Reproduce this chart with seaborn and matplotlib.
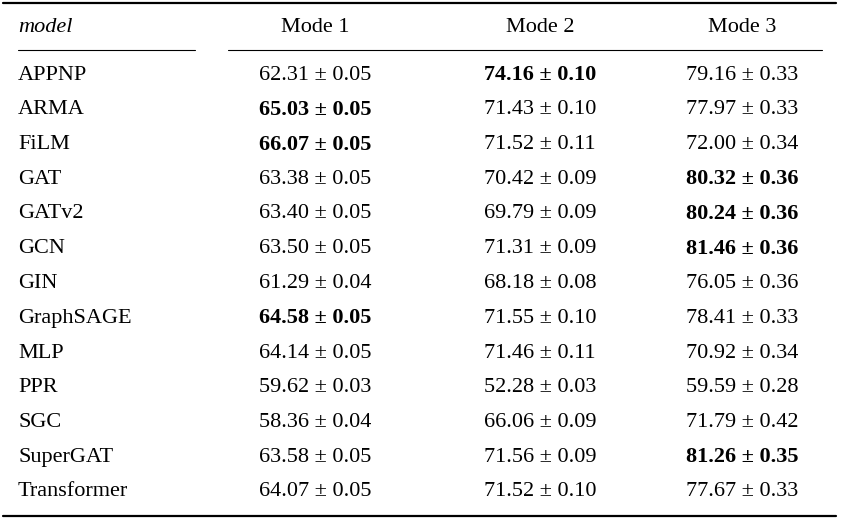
import matplotlib
matplotlib.use("Agg")
import matplotlib.pyplot as plt
import seaborn as sns

# table data
models = ["APPNP", "ARMA", "FiLM", "GAT", "GATv2", "GCN", "GIN", "GraphSAGE",
          "MLP", "PPR", "SGC", "SuperGAT", "Transformer"]
modes = ["Mode 1", "Mode 2", "Mode 3"]

mode1_mean = [62.31, 65.03, 66.07, 63.38, 63.40, 63.50, 61.29, 64.58, 64.14, 59.62, 58.36, 63.58, 64.07]
mode1_std = [0.05, 0.05, 0.05, 0.05, 0.05, 0.05, 0.04, 0.05, 0.05, 0.03, 0.04, 0.05, 0.05]
mode2_mean = [74.16, 71.43, 71.52, 70.42, 69.79, 71.31, 68.18, 71.55, 71.46, 52.28, 66.06, 71.56, 71.52]
mode2_std = [0.10, 0.10, 0.11, 0.09, 0.09, 0.09, 0.08, 0.10, 0.11, 0.03, 0.09, 0.09, 0.10]
mode3_mean = [79.16, 77.97, 72.00, 80.32, 80.24, 81.46, 76.05, 78.41, 70.92, 59.59, 71.79, 81.26, 77.67]
mode3_std = [0.33, 0.33, 0.34, 0.36, 0.36, 0.36, 0.36, 0.33, 0.34, 0.28, 0.42, 0.35, 0.33]

bold1 = ["ARMA", "FiLM", "GraphSAGE"]
bold2 = ["APPNP"]
bold3 = ["GAT", "GATv2", "GCN", "SuperGAT"]

sns.set_theme(style="white")
plt.rcParams['font.family'] = ['Liberation Serif', 'DejaVu Serif']
plt.rcParams['text.color'] = 'black'

fig = plt.figure(figsize=(8.42, 5.2), dpi=100)
ax = fig.add_axes([0, 0, 1, 1])
ax.set_xlim(0, 842)
ax.set_ylim(520, 0)
ax.axis("off")

fs = 16
col_x = [315, 540, 742]
ax.plot([3, 836], [3, 3], color="black", lw=1.6)
ax.plot([18, 195], [50, 50], color="black", lw=0.8)
ax.plot([228, 822], [50, 50], color="black", lw=0.8)
ax.plot([3, 836], [516, 516], color="black", lw=1.6)

ax.text(18, 27, "model", fontsize=fs, style="italic", va="center", ha="left")
for x, m in zip(col_x, modes):
    ax.text(x, 27, m, fontsize=fs, va="center", ha="center")

cols = [(mode1_mean, mode1_std, bold1), (mode2_mean, mode2_std, bold2), (mode3_mean, mode3_std, bold3)]
for i, name in enumerate(models):
    y = 75 + i * 34.75
    ax.text(18, y, name, fontsize=fs, va="center", ha="left")
    for x, (mean, std, bold) in zip(col_x, cols):
        w = "bold" if name in bold else "normal"
        ax.text(x, y, f"{mean[i]:.2f} ± {std[i]:.2f}", fontsize=fs, va="center",
                ha="center", fontweight=w)

fig.savefig("out.png", dpi=100)
